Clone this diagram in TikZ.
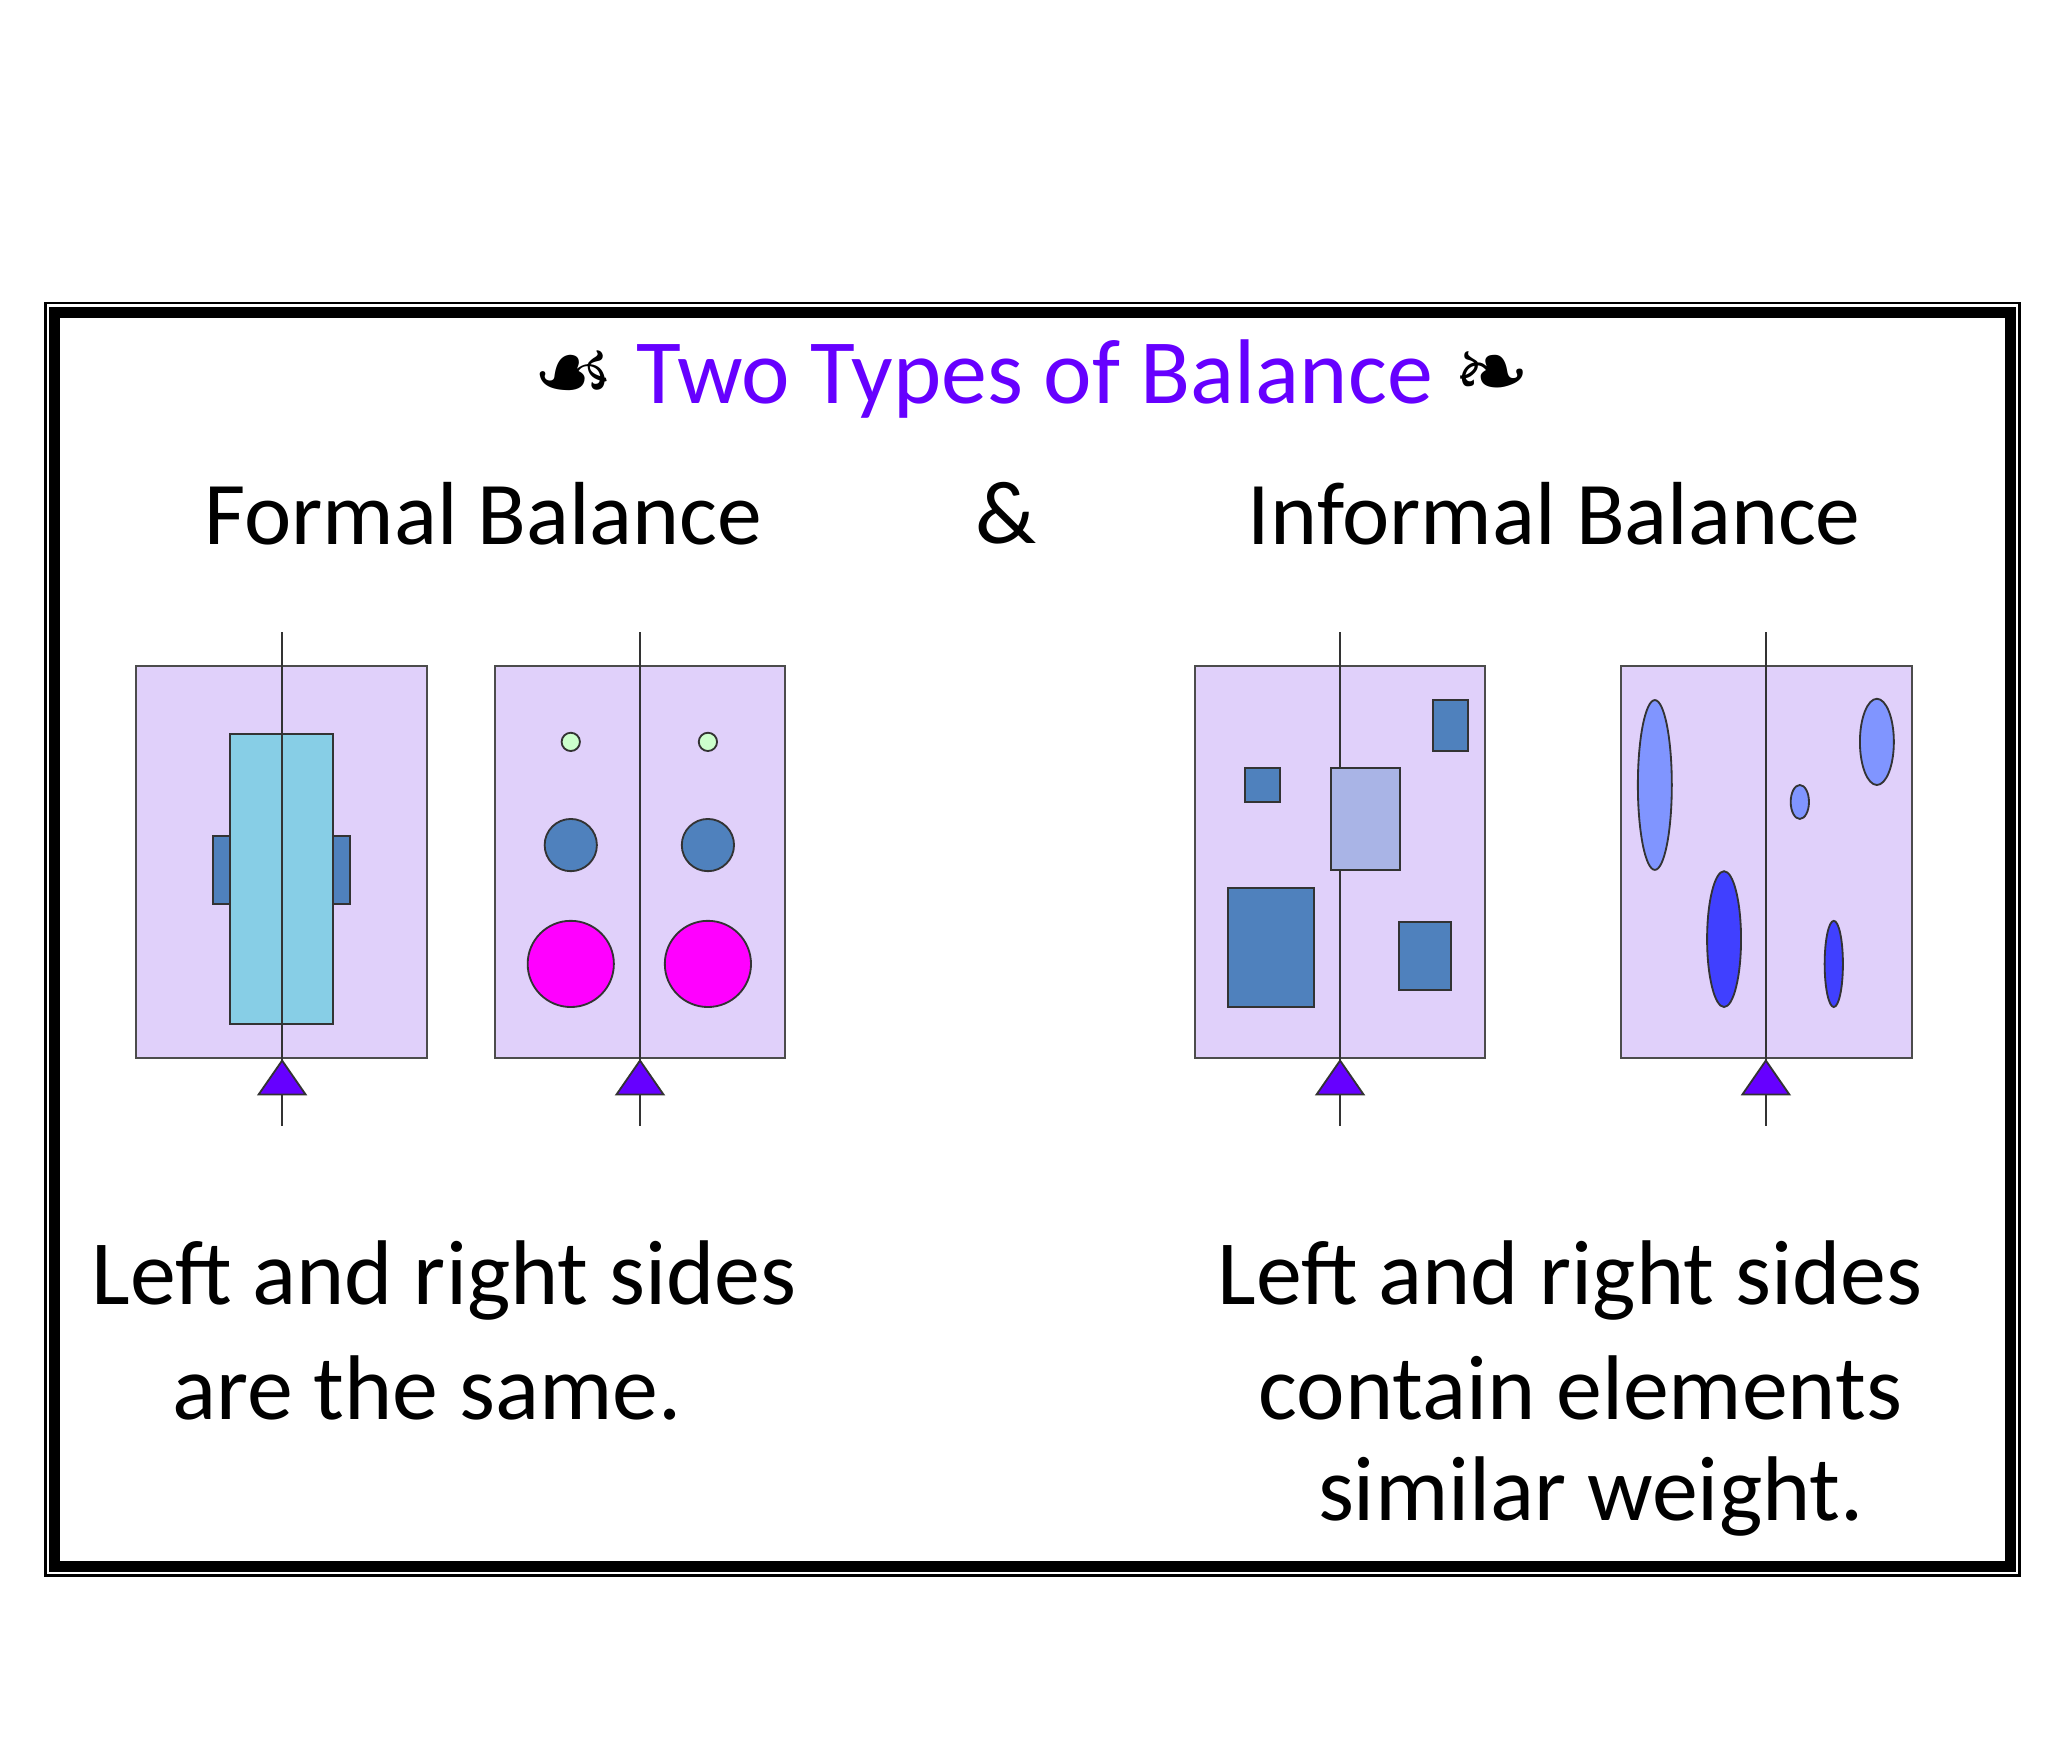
\documentclass[tikz,border=0pt]{standalone}
\usepackage{fontspec}
\setmainfont{Carlito}
\newfontfamily\orn{DejaVu Sans}
\usetikzlibrary{positioning, shapes.geometric}
\definecolor{panelbg}{RGB}{224,208,250}
\definecolor{tblue}{RGB}{79,129,189}
\definecolor{sky}{RGB}{135,206,230}
\definecolor{violetp}{RGB}{102,0,255}
\definecolor{pale}{RGB}{204,255,204}
\definecolor{lilac}{RGB}{169,180,230}
\definecolor{eblue}{RGB}{128,149,255}
\definecolor{dblue}{RGB}{64,64,255}
\definecolor{pink}{RGB}{255,0,255}
\tikzset{
	panel/.style={draw=black!70, fill=panelbg, line width=0.5pt},
	piece/.style={draw=black!80, line width=0.4pt},
	pivot/.style={draw=black!80, fill=violetp, line width=0.4pt},
	head/.style={font=\fontsize{19.5}{24}\selectfont},
	say/.style={font=\fontsize{20}{24}\selectfont, align=center}
}
% one balance panel: left edge, right edge, axis
\newcommand{\scale}[3]
{
	\draw[panel] (#1,510) rectangle (#2,810);
	\draw[black!80] (#3,484) -- (#3,862);
	\draw[pivot] (#3,812) -- (#3-18,838) -- (#3+18,838) -- cycle;
}
\begin{document}
\begin{tikzpicture}[x={(0.01cm,0)}, y={(0,-0.01cm)}]
	\useasboundingbox[fill=white] (0,0) rectangle (1568,1333);
	\draw[line width=0.6pt] (35,232) rectangle (1546,1206);
	\draw[line width=2.4pt] (42,239) rectangle (1539,1199);
	\node[font=\fontsize{20}{24}\selectfont, text=violetp] (title) at (790,290)
		{{\orn\color{black}☙} Two Types of Balance {\orn\color{black}❧}};
	\node[head] (formal) at (370,393) {Formal Balance};
	\node[head] (amp) at (770,393) {\&};
	\node[head] (informal) at (1190,393) {Informal Balance};
	% formal: shapes
	\scale{104}{327}{216}
	\draw[piece, fill=tblue] (163,640) rectangle (268,692);
	\draw[piece, fill=sky] (176,562) rectangle (255,784);
	\draw[black!80] (216,562) -- (216,784);
	% formal: circles
	\scale{379}{601}{490}
	\foreach \x in {437,542} {
		\draw[piece, fill=pale] (\x,568) circle (7);
		\draw[piece, fill=tblue] (\x,647) circle (20);
		\draw[piece, fill=pink] (\x,738) circle (33);
	}
	% informal: squares
	\scale{915}{1137}{1026}
	\draw[piece, fill=tblue] (1097,536) rectangle (1124,575);
	\draw[piece, fill=tblue] (953,588) rectangle (980,614);
	\draw[piece, fill=lilac] (1019,588) rectangle (1072,666);
	\draw[piece, fill=tblue] (940,680) rectangle (1006,771);
	\draw[piece, fill=tblue] (1071,706) rectangle (1111,758);
	% informal: ellipses
	\scale{1241}{1464}{1352}
	\draw[piece, fill=eblue] (1267,601) ellipse (13 and 65);
	\draw[piece, fill=eblue] (1437,568) ellipse (13 and 33);
	\draw[piece, fill=eblue] (1378,614) ellipse (7 and 13);
	\draw[piece, fill=dblue] (1320,719) ellipse (13 and 52);
	\draw[piece, fill=dblue] (1404,738) ellipse (7 and 33);
	\node[say] (same1) at (340,980) {Left and right sides};
	\node[say] (same2) at (327,1063) {are the same.};
	\node[say] (sim1) at (1202,980) {Left and right sides};
	\node[say] (sim2) at (1210,1063) {contain elements};
	\node[say] (sim3) at (1218,1146) {similar weight.};
\end{tikzpicture}
\end{document}
